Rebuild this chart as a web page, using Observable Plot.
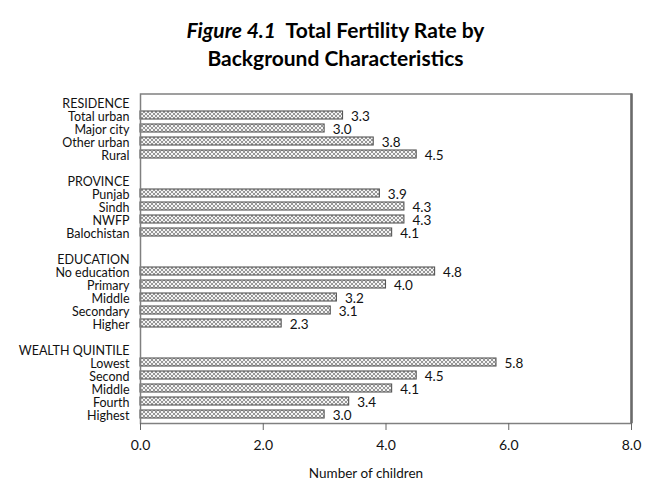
<!DOCTYPE html>
<html>
<head>
<meta charset="utf-8">
<script src="https://cdn.jsdelivr.net/npm/d3@7"></script>
<script src="https://cdn.jsdelivr.net/npm/@observablehq/plot@0.6"></script>
<style>
  html, body { margin: 0; padding: 0; background: #fff; }
  #wrap { width: 663px; height: 490px; position: relative; font-family: Lato, "Open Sans", sans-serif; }
  #title { height: 80px; box-sizing: border-box; padding-top: 16px; text-align: center; font-family: Lato, sans-serif; font-weight: bold; font-size: 21px; line-height: 28px; color: #000; padding-left: 8px; }
  #title i { font-weight: bold; }
  svg { display: block; }
</style>
</head>
<body>
<div id="wrap">
  <div id="title"><i>Figure 4.1</i>&nbsp; Total Fertility Rate by<br>Background Characteristics</div>
  <div id="chart"></div>
</div>
<script>
const headers = ["RESIDENCE", "PROVINCE", "EDUCATION", "WEALTH QUINTILE"];
const residenceLabels = ["Total urban", "Major city", "Other urban", "Rural"];
const residenceValues = [3.3, 3.0, 3.8, 4.5];
const provinceLabels = ["Punjab", "Sindh", "NWFP", "Balochistan"];
const provinceValues = [3.9, 4.3, 4.3, 4.1];
const educationLabels = ["No education", "Primary", "Middle", "Secondary", "Higher"];
const educationValues = [4.8, 4.0, 3.2, 3.1, 2.3];
const wealthLabels = ["Lowest", "Second", "Middle", "Fourth", "Highest"];
const wealthValues = [5.8, 4.5, 4.1, 3.4, 3.0];
const xTicks = [0, 2, 4, 6, 8];

const groups = [
  [residenceLabels, residenceValues],
  [provinceLabels, provinceValues],
  [educationLabels, educationValues],
  [wealthLabels, wealthValues]
];

// Build ordered rows (headers, items, blank spacers)
const domain = [];
const labelOf = new Map();
const data = [];
groups.forEach(([labels, values], g) => {
  if (g > 0) { const k = "blank" + g; domain.push(k); labelOf.set(k, ""); }
  const hk = "h" + g; domain.push(hk); labelOf.set(hk, headers[g]);
  labels.forEach((lab, i) => {
    const k = g + ":" + lab;
    domain.push(k); labelOf.set(k, lab);
    data.push({key: k, label: lab, value: values[i]});
  });
});

const chart = Plot.plot({
  width: 663,
  height: 410,
  marginLeft: 140,
  marginRight: 32,
  marginTop: 13.5,
  marginBottom: 67,
  style: {fontFamily: "Lato, 'Open Sans', sans-serif", color: "#111", background: "#fff"},
  x: {domain: [0, 8]},
  y: {domain, paddingInner: 0.36, paddingOuter: 0.18},
  marks: [
    Plot.barX(data, {x: "value", y: "key", fill: "url(#xhatch)", stroke: "#555", strokeWidth: 1.1}),
    Plot.text(data, {x: "value", y: "key", text: d => d3.format(".1f")(d.value), dx: 8, dy: 1, textAnchor: "start", fontSize: 13.5, fill: "#111"}),
    Plot.frame({stroke: "#808080", strokeWidth: 1.5}),
    Plot.ruleX([8], {stroke: "#6a6a6a", strokeWidth: 2.5}),
    Plot.axisX({ticks: xTicks, tickSize: 7, tickPadding: 10, tickFormat: d3.format(".1f"), label: null, fontSize: 14, stroke: "#666"}),
    Plot.axisY({tickSize: 0, tickPadding: 11, tickFormat: k => labelOf.get(k), label: null, fontSize: 12.5, dy: 1}),
    Plot.text(["Number of children"], {frameAnchor: "bottom", dy: 50, dx: -20, lineAnchor: "middle", fontSize: 13.5, fill: "#111"})
  ]
});

chart.insertAdjacentHTML("afterbegin",
  `<defs><pattern id="xhatch" width="4" height="4" patternUnits="userSpaceOnUse">
     <rect width="4" height="4" fill="#f4f4f4"/>
     <path d="M0,0L4,4M4,0L0,4" stroke="#8c8c8c" stroke-width="0.9"/>
   </pattern></defs>`);

document.getElementById("chart").appendChild(chart);
</script>
</body>
</html>
